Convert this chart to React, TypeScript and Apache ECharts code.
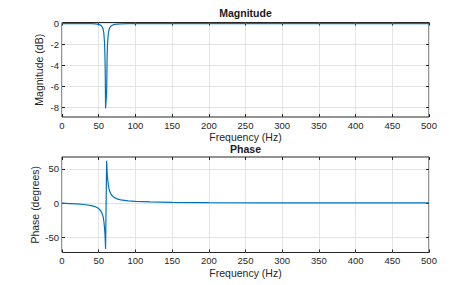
import React, { useEffect, useRef } from "react";
import * as echarts from "echarts";

// Notch filter frequency response (60 Hz notch), read point by point
const freqHz = [0, 10, 20, 30, 40, 45, 50, 53, 55, 56, 57, 58, 58.5, 59, 59.36, 60.8, 61.5, 62, 63, 64, 65, 67, 70, 75, 80, 90, 100, 120, 150, 200, 300, 400, 500];
const magDb = [0, -0.0003, -0.0015, -0.005, -0.016, -0.032, -0.08, -0.17, -0.34, -0.54, -0.92, -1.88, -2.96, -5.07, -8.08, -6.59, -3.06, -1.99, -1.01, -0.61, -0.4, -0.22, -0.11, -0.053, -0.032, -0.016, -0.0095, -0.005, -0.0025, -0.0012, -0.0005, -0.0003, 0];
const phaseDeg = [0, -0.49, -1.07, -1.91, -3.43, -4.9, -7.77, -11.4, -16.0, -19.9, -26.0, -36.4, -44.6, -56.1, -66.8, 62.1, 45.3, 37.3, 27.1, 21.2, 17.3, 12.7, 9.18, 6.34, 4.9, 3.43, 2.68, 1.91, 1.36, 0.94, 0.6, 0.44, 0.35];

const magTicks = [-8, -6, -4, -2, 0];
const phaseTicks = [-50, 0, 50];

const FONT = '"Liberation Sans", Arial, Helvetica, sans-serif';
const INK = "#262626";
const GRID = "#e3e3e3";
const LINE = "#0072BD";

function xAxisPair(gridIndex: number, nameGap: number) {
  const main = {
    type: "value",
    gridIndex,
    min: 0,
    max: 500,
    interval: 50,
    position: "bottom",
    name: "Frequency (Hz)",
    nameLocation: "middle",
    nameGap,
    nameMoveOverlap: false,
    nameTextStyle: { fontFamily: FONT, fontSize: 10.5, color: INK },
    axisLine: { show: false, onZero: false },
    axisTick: { show: true, inside: true, length: 3, lineStyle: { color: INK } },
    axisLabel: { margin: 3, fontFamily: FONT, fontSize: 9.5, color: INK },
    splitLine: { show: true, lineStyle: { color: GRID, width: 1 } },
  };
  const top = {
    type: "value",
    gridIndex,
    min: 0,
    max: 500,
    interval: 50,
    position: "top",
    axisLine: { show: false, onZero: false },
    axisTick: { show: true, inside: true, length: 3, lineStyle: { color: INK } },
    axisLabel: { show: false },
    splitLine: { show: false },
  };
  return [main, top];
}

function yAxisPair(gridIndex: number, min: number, max: number, ticks: number[], name: string, nameGap: number) {
  const left = {
    type: "value",
    gridIndex,
    min,
    max,
    position: "left",
    name,
    nameLocation: "middle",
    nameGap,
    nameMoveOverlap: false,
    nameTextStyle: { fontFamily: FONT, fontSize: 10.5, color: INK },
    axisLine: { show: false, onZero: false },
    axisTick: { show: true, inside: true, length: 3, customValues: ticks, lineStyle: { color: INK } },
    axisLabel: { margin: 3, fontFamily: FONT, fontSize: 9.5, color: INK, customValues: ticks },
    splitLine: { show: true, lineStyle: { color: GRID, width: 1 } },
  };
  const right = {
    type: "value",
    gridIndex,
    min,
    max,
    position: "right",
    axisLine: { show: false, onZero: false },
    axisTick: { show: true, inside: true, length: 3, customValues: ticks, lineStyle: { color: INK } },
    axisLabel: { show: false, customValues: ticks },
    splitLine: { show: false },
  };
  return [left, right];
}

export default function App() {
  const ref = useRef<HTMLDivElement>(null);

  useEffect(() => {
    if (!ref.current) return;
    const chart = echarts.init(ref.current, undefined, { renderer: "svg" });

    const magData = freqHz.map((f, i) => [f, magDb[i]]);
    const phaseData = freqHz.map((f, i) => [f, phaseDeg[i]]);

    chart.setOption({
      animation: false,
      backgroundColor: "#ffffff",
      graphic: [
        {
          type: "text",
          x: 245.5,
          y: 13,
          style: { text: "Magnitude", fontFamily: FONT, fontSize: 10.5, fontWeight: "bold", fill: "#1a1a1a", align: "center", verticalAlign: "middle" },
        },
        {
          type: "text",
          x: 245.5,
          y: 148.5,
          style: { text: "Phase", fontFamily: FONT, fontSize: 10.5, fontWeight: "bold", fill: "#1a1a1a", align: "center", verticalAlign: "middle" },
        },
      ],
      grid: [
        { left: 62, right: 45, top: 22.5, height: 94.5, show: true, borderColor: INK, borderWidth: 1, backgroundColor: "transparent" },
        { left: 62, right: 45, top: 157, height: 95.5, show: true, borderColor: INK, borderWidth: 1, backgroundColor: "transparent" },
      ],
      xAxis: [...xAxisPair(0, 14.5), ...xAxisPair(1, 15)],
      yAxis: [
        ...yAxisPair(0, -8.9, 0.1, magTicks, "Magnitude (dB)", 18),
        ...yAxisPair(1, -72, 67.5, phaseTicks, "Phase (degrees)", 22),
      ],
      series: [
        {
          type: "line",
          xAxisIndex: 0,
          yAxisIndex: 0,
          data: magData,
          showSymbol: false,
          lineStyle: { color: LINE, width: 1.2 },
          z: 3,
        },
        {
          type: "line",
          xAxisIndex: 2,
          yAxisIndex: 2,
          data: phaseData,
          showSymbol: false,
          lineStyle: { color: LINE, width: 1.2 },
          z: 3,
        },
      ],
    });

    return () => chart.dispose();
  }, []);

  return <div ref={ref} style={{ position: "fixed", left: 0, top: 0, width: 474, height: 285 }} />;
}
